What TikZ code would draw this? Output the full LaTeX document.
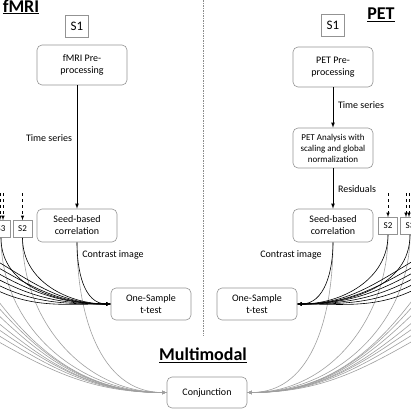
\documentclass[tikz,border=0pt]{standalone}
\usepackage{fontspec}
\setmainfont{Carlito}
\usetikzlibrary{arrows,positioning,shapes}

\begin{document}
\begin{tikzpicture}[x=1pt,y=-1pt,
            box/.style={draw=gray!85,line width=.6pt,rounded corners=5pt,align=center,minimum width=80pt,minimum height=32pt,inner sep=2pt,font=\fontsize{10}{12}\selectfont},
            subj/.style={draw=gray!85,line width=.6pt,rectangle,minimum width=19pt,minimum height=17pt,inner sep=0pt,font=\fontsize{9}{10}\selectfont},
            seed/.style={subj,minimum width=23pt,minimum height=22pt,font=\fontsize{13}{14}\selectfont},
            title/.style={inner sep=1pt,font=\fontsize{18}{20}\selectfont\bfseries},
            lab/.style={inner sep=1pt,font=\fontsize{10}{12}\selectfont},
            main/.style={draw,->,>=latex,thick},
            feed/.style={draw,->,>=latex,semithick},
            pool/.style={draw=gray!75,->,>=latex,line width=.6pt},
            cue/.style={draw,->,>=latex,dashed,semithick},
            divider/.style={draw=gray!90,line width=1pt,dash pattern=on 1.5pt off 1pt}
          ]
          \useasboundingbox (0,0) rectangle (410,410);

          %titles
          \node[title] (fmri) at (21,7) {\underline{fMRI}};
          \node[title] (pet) at (381,15) {\underline{PET}};
          \node[title] (multi) at (203,355) {\underline{Multimodal}};

          %divider
          \coordinate (dtop) at (203,0);
          \coordinate (dbot) at (203,336);
          \path[divider] (dtop) -- (dbot);

          %fmri column
          \node[seed] (s1L) at (77,26) {S1};
          \node[box,minimum width=90pt,minimum height=40pt] (preL) at (82,65) {fMRI Pre-\\processing};
          \node[box,minimum height=33pt] (seedL) at (77,225.5) {Seed-based\\correlation};
          \node[subj] (s2L) at (22.5,229) {S2};
          \node[subj] (s3L) at (1,229) {S3};
          \node[box] (ttL) at (151,304) {One-Sample\\t-test};

          %pet column
          \node[seed] (s1R) at (333,25) {S1};
          \node[box,minimum height=40pt] (preR) at (333,67) {PET Pre-\\processing};
          \node[box,minimum height=40pt,font=\fontsize{9}{11}\selectfont] (petA) at (333,148) {PET Analysis with\\scaling and global\\normalization};
          \node[box,minimum height=33pt] (seedR) at (333,225.5) {Seed-based\\correlation};
          \node[subj] (s2R) at (388,226) {S2};
          \node[subj] (s3R) at (410,226) {S3};
          \node[box] (ttR) at (257,304) {One-Sample\\t-test};

          %multimodal
          \node[box,minimum height=31pt] (conj) at (207,392.5) {Conjunction};

          %labels
          \node[lab] (tsL) at (49,138) {Time series};
          \node[lab] (tsR) at (361,105) {Time series};
          \node[lab] (res) at (357,189) {Residuals};
          \node[lab] (ciL) at (113,255) {Contrast image};
          \node[lab] (ciR) at (291,255) {Contrast image};

          %pipelines
          \path[main] (seedL.north |- preL.south) -- (seedL.north);
          \path[main] (preR.south) -- (petA.north);
          \path[main] (petA.south) -- (seedR.north);

          %other subjects
          \coordinate (c2L) at (22.5,193);
          \coordinate (c3L) at (0,193);
          \coordinate (c4L) at (3,193);
          \coordinate (c2R) at (388,193);
          \coordinate (c3R) at (406,193);
          \coordinate (c4R) at (409,193);
          \path[cue] (c2L) -- (s2L.north);
          \path[cue] (c3L) -- (c3L |- s3L.north);
          \path[cue] (c4L) -- (c4L |- s3L.north);
          \path[cue] (c2R) -- (s2R.north);
          \path[cue] (c3R) -- (c3R |- s3R.north);
          \path[cue] (c4R) -- (c4R |- s3R.north);

          %free ends beyond the frame
          \foreach \i/\y in {1/254,2/260,3/266,4/272,5/278,6/284} {
            \coordinate (bL\i) at (-15,\y);
            \coordinate (bR\i) at (425,\y);
          }
          \foreach \i/\y in {1/283,2/292,3/302,4/312,5/320,6/327,7/334} {
            \coordinate (gL\i) at (-15,\y);
            \coordinate (gR\i) at (425,\y);
          }

          %to conjunction
          \path[pool] (seedL.south) to[out=-90,in=180] (conj.west);
          \path[pool] (s2L.south) to[out=-90,in=180] (conj.west);
          \path[pool] (s3L.south) to[out=-90,in=180] (conj.west);
          \path[pool] (seedR.south) to[out=-90,in=0] (conj.east);
          \path[pool] (s2R.south) to[out=-90,in=0] (conj.east);
          \path[pool] (s3R.south) to[out=-90,in=0] (conj.east);
          \foreach \i/\a in {1/55,2/50,3/45,4/40,5/35,6/32,7/30} {
            \path[pool] (gL\i) to[out=-\a,in=180] (conj.west);
            \path[pool] (gR\i) to[out=180+\a,in=0] (conj.east);
          }

          %to one-sample t-tests
          \path[feed] (seedL.south) to[out=-90,in=180] (ttL.west);
          \path[feed] (s2L.south) to[out=-90,in=180] (ttL.west);
          \path[feed] (s3L.south) to[out=-90,in=180] (ttL.west);
          \path[feed] (seedR.south) to[out=-90,in=0] (ttR.east);
          \path[feed] (s2R.south) to[out=-90,in=0] (ttR.east);
          \path[feed] (s3R.south) to[out=-90,in=0] (ttR.east);
          \foreach \i in {1,...,6} {
            \path[feed] (bL\i) to[out=-30,in=180] (ttL.west);
            \path[feed] (bR\i) to[out=210,in=0] (ttR.east);
          }

      \end{tikzpicture}
\end{document}
